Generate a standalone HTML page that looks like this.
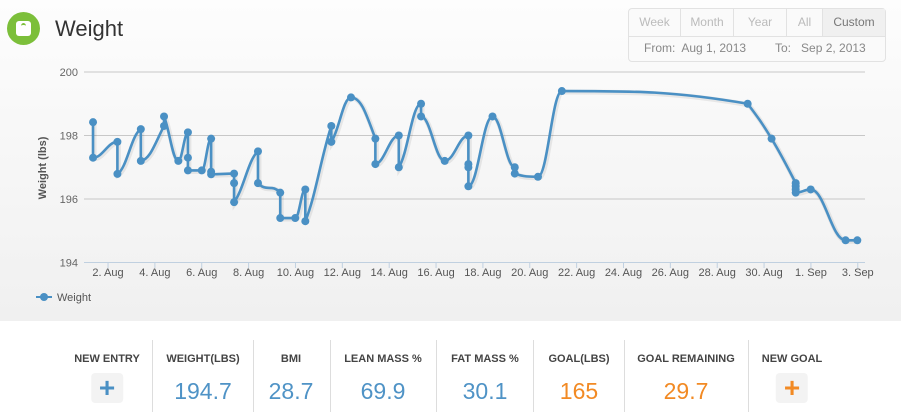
<!DOCTYPE html>
<html><head><meta charset="utf-8"><style>
body{margin:0;width:901px;height:420px;overflow:hidden;font-family:"Liberation Sans",sans-serif;background:#fff;position:relative}
#top{position:absolute;left:0;top:0;width:901px;height:321px;background:linear-gradient(#fdfdfd,#f0f0f0)}
.abs{position:absolute}
.col{position:absolute;top:353px;text-align:center;transform:translateX(-50%);white-space:nowrap}
.lab{font-size:11px;font-weight:bold;color:#444}
.val{font-size:23px;margin-top:13px}
.div{position:absolute;top:340px;width:1px;height:72px;background:#ddd}
.plus{width:32px;height:30px;background:#f3f3f3;border-radius:4px;margin:8px auto 0;font-size:28px;font-weight:bold;line-height:29px}
.btns{position:absolute;left:628px;top:8px;width:256px;height:52px;border:1px solid #e2e2e2;border-radius:4px;background:#fafafa;font-size:12px;color:#bbb}
.btns span{position:absolute;top:0;height:27px;line-height:27px;text-align:center;border-right:1px solid #e2e2e2}
</style></head><body>
<div id="top"></div>
<div class="abs" style="left:7px;top:12px;width:33px;height:33px;border-radius:50%;background:#7cbf3a"><div style="position:absolute;left:9px;top:9px;width:15px;height:15px;background:#fff;border-radius:3px"></div><div style="position:absolute;left:14px;top:11px;width:5px;height:4px;border-top:2px solid #7cbf3a;border-radius:50% 50% 0 0"></div></div>
<div class="abs" style="left:55px;top:16px;font-size:22px;color:#333">Weight</div>
<div class="btns">
<span style="left:0;width:51px">Week</span>
<span style="left:52px;width:52px">Month</span>
<span style="left:105px;width:52px">Year</span>
<span style="left:158px;width:35px">All</span>
<span style="left:194px;width:62px;border-right:none;color:#777;background:#f0f0f0">Custom</span>
<div style="position:absolute;left:0;top:27px;width:256px;border-top:1px solid #e2e2e2"></div>
<div style="position:absolute;left:15px;top:32px;color:#888">From:&nbsp; Aug 1, 2013</div>
<div style="position:absolute;left:146px;top:32px;color:#888">To:&nbsp;&nbsp; Sep 2, 2013</div>
</div>
<svg id="chart" class="abs" style="left:0;top:0" width="901" height="320"></svg>
<div class="col" style="left:107px"><div class="lab">NEW ENTRY</div><div class="plus" style="color:#4a90c4">+</div></div>
<div class="div" style="left:152px"></div>
<div class="col" style="left:203px"><div class="lab">WEIGHT(LBS)</div><div class="val" style="color:#4f93c6">194.7</div></div>
<div class="div" style="left:253px"></div>
<div class="col" style="left:291px"><div class="lab">BMI</div><div class="val" style="color:#4f93c6">28.7</div></div>
<div class="div" style="left:330px"></div>
<div class="col" style="left:383px"><div class="lab">LEAN MASS %</div><div class="val" style="color:#4f93c6">69.9</div></div>
<div class="div" style="left:436px"></div>
<div class="col" style="left:485px"><div class="lab">FAT MASS %</div><div class="val" style="color:#4f93c6">30.1</div></div>
<div class="div" style="left:533px"></div>
<div class="col" style="left:579px"><div class="lab">GOAL(LBS)</div><div class="val" style="color:#f28a24">165</div></div>
<div class="div" style="left:624px"></div>
<div class="col" style="left:686px"><div class="lab">GOAL REMAINING</div><div class="val" style="color:#f28a24">29.7</div></div>
<div class="div" style="left:748px"></div>
<div class="col" style="left:792px"><div class="lab">NEW GOAL</div><div class="plus" style="color:#f28a24">+</div></div>
<script>
const days=[0.36,0.36,1.40,1.40,2.40,2.40,3.39,3.39,4.0,4.41,4.41,4.41,5.0,5.40,5.40,5.40,6.38,6.38,6.38,7.40,7.40,8.35,8.35,8.99,9.42,9.42,10.53,10.53,11.37,12.41,12.41,13.41,13.41,14.36,14.36,15.37,16.38,16.38,16.38,16.38,17.41,18.36,18.36,19.35,20.37,28.30,29.32,30.35,30.35,30.35,30.35,30.99,32.48,32.98];
const weights=[198.42,197.3,197.8,196.79,198.2,197.2,198.3,198.6,197.2,198.1,197.3,196.9,196.9,197.9,196.86,196.78,196.8,196.5,195.9,197.5,196.5,196.2,195.4,195.4,196.3,195.3,198.3,197.8,199.2,197.9,197.1,198.0,197.0,199.0,198.6,197.2,198.0,197.1,197.0,196.4,198.6,197.0,196.8,196.7,199.4,199.0,197.9,196.5,196.4,196.3,196.2,196.3,194.7,194.7];
const yTicks=[194,196,198,200];
const xTickDays=[1,3,5,7,9,11,13,15,17,19,21,23,25,27,29,31,33];
const xTickLabels=["2. Aug","4. Aug","6. Aug","8. Aug","10. Aug","12. Aug","14. Aug","16. Aug","18. Aug","20. Aug","22. Aug","24. Aug","26. Aug","28. Aug","30. Aug","1. Sep","3. Sep"];
const svg=document.getElementById('chart');const NS='http://www.w3.org/2000/svg';
const X=d=>84.6+d*23.43;const Y=w=>72+(200-w)*31.75;
function mk(t,a){const e=document.createElementNS(NS,t);for(const k in a)e.setAttribute(k,a[k]);svg.appendChild(e);return e;}
yTicks.forEach(v=>{
const g=mk('line',{x1:84,x2:865,y1:Y(v),y2:Y(v),stroke:v===194?'#c0d0e0':'#c8c8c8','stroke-width':1});


const t=mk('text',{x:78,y:Y(v)+4,'text-anchor':'end','font-size':11,fill:'#666'});t.textContent=v;


});
xTickDays.forEach((d,i)=>{
const l=mk('line',{x1:X(d),x2:X(d),y1:263,y2:268,stroke:'#c0d0e0'});


const t=mk('text',{x:X(d),y:276,'text-anchor':'middle','font-size':11,fill:'#555'});t.textContent=xTickLabels[i];


});
const yt=mk('text',{x:0,y:0,transform:'translate(46,168) rotate(-90)','text-anchor':'middle','font-size':11,'font-weight':'bold',fill:'#555'});yt.textContent='Weight (lbs)';


const P=days.map((d,i)=>[X(d),Y(weights[i])]);
function ctrl(i){const s=1.5,dn=2.5,[x,y]=P[i];const p=P[i-1],n=P[i+1];if(!p||!n)return null;
let lx=(s*x+p[0])/dn,ly=(s*y+p[1])/dn,rx=(s*x+n[0])/dn,ry=(s*y+n[1])/dn;
if(rx!==lx){const c=((ry-ly)*(rx-x))/(rx-lx)+y-ry;ly+=c;ry+=c;}
if(ly>p[1]&&ly>y){ly=Math.max(p[1],y);ry=2*y-ly;}else if(ly<p[1]&&ly<y){ly=Math.min(p[1],y);ry=2*y-ly;}
if(ry>n[1]&&ry>y){ry=Math.max(n[1],y);ly=2*y-ry;}else if(ry<n[1]&&ry<y){ry=Math.min(n[1],y);ly=2*y-ry;}
return [lx,ly,rx,ry];}
let d='M'+P[0][0]+' '+P[0][1];
for(let i=1;i<P.length;i++){const a=ctrl(i-1),b=ctrl(i);const c1=a?[a[2],a[3]]:P[i-1];const c2=b?[b[0],b[1]]:P[i];d+=` C${c1[0]} ${c1[1]} ${c2[0]} ${c2[1]} ${P[i][0]} ${P[i][1]}`;}
const sh=mk('path',{d:d,fill:'none',stroke:'rgba(0,0,0,0.07)','stroke-width':5,transform:'translate(1,1)'});


const ln=mk('path',{d:d,fill:'none',stroke:'#4a90c4','stroke-width':2.6});


P.forEach(p=>{const c=mk('circle',{cx:p[0],cy:p[1],r:4,fill:'#4a90c4'});

});
const lg=mk('line',{x1:36,x2:52,y1:297,y2:297,stroke:'#4a90c4','stroke-width':2});


const lc=mk('circle',{cx:44,cy:297,r:4,fill:'#4a90c4'});


const lt=mk('text',{x:57,y:301,'font-size':11,fill:'#555'});lt.textContent='Weight';


</script>
</body></html>
